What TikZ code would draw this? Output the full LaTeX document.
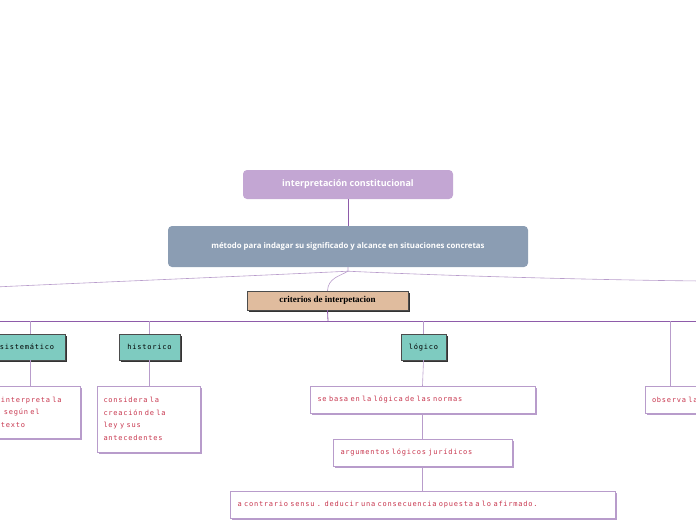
\documentclass[tikz,border=0pt]{standalone}
\usepackage{fontspec}
\setmainfont{Open Sans}
\newfontfamily\monof{DejaVu Sans Mono}[LetterSpace=11]
\newfontfamily\serifb{Liberation Serif}[BoldFont={Liberation Serif Bold}]
\usetikzlibrary{shadows}
\definecolor{lil}{HTML}{C3A6D3}
\definecolor{slate}{HTML}{8B9DB3}
\definecolor{tan}{HTML}{E0BC9E}
\definecolor{teal1}{HTML}{7ECBC0}
\definecolor{txtred}{HTML}{C8374F}
\definecolor{ln}{HTML}{8E5BAA}
\definecolor{lnl}{HTML}{B89CCB}
\tikzset{
 top/.style={rounded corners=4pt,text=white,font=\bfseries\fontsize{9}{10}\selectfont,minimum height=29pt,inner sep=0pt},
 crit/.style={fill=tan,draw=black!70,drop shadow={shadow xshift=1.5pt,shadow yshift=-1.5pt,fill=black!80,opacity=1},font=\serifb\bfseries\fontsize{9}{10}\selectfont,minimum width=161pt,minimum height=19pt,inner sep=0pt},
 cat/.style={fill=teal1,draw=black!70,drop shadow={shadow xshift=1.5pt,shadow yshift=-1.5pt,fill=black!80,opacity=1},font=\monof\fontsize{7}{8}\selectfont,minimum height=26pt,inner sep=0pt},
 leaf/.style={fill=white,draw=lnl,drop shadow={shadow xshift=1.5pt,shadow yshift=-1.5pt,fill=lnl,opacity=1},text=txtred,font=\monof\fontsize{7}{12.5}\selectfont,inner sep=0pt,align=left},
 link/.style={lnl,line width=0.6pt},
 blink/.style={ln,line width=0.8pt}
}
\begin{document}
\begin{tikzpicture}[x=1pt,y=-1pt]
\useasboundingbox (0,0) rectangle (696,520);
\clip (0,0) rectangle (696,520);
\node[top,fill=lil,minimum width=210pt] (title) at (348,184.5) {interpretación constitucional};
\node[top,fill=slate,minimum width=360pt,minimum height=41pt,font=\bfseries\fontsize{7.8}{9}\selectfont] (met) at (348,246.5) {método para indagar su significado y alcance en situaciones concretas};
\draw[blink] (title.south) -- (met.north);
\coordinate (ml) at (-5,287);
\coordinate (mr) at (701,281);
\draw[link] (met.south) -- ++(0,4) .. controls (250,276) and (80,283) .. (ml);
\draw[link] (met.south) ++(0,4) .. controls (450,276) and (600,280) .. (mr);
\node[crit] (crit) at (327.5,300.5) {criterios de interpetacion};
\draw[link] (met.south) ++(0,4) .. controls (340,276) and (328,278) .. (crit.north);
\coordinate (bus) at (328,321);
\coordinate (busl) at (-5,321);
\coordinate (busr) at (701,321);
\draw[blink] (crit.south) -- (bus);
\draw[blink] (busl) -- (busr);
\node[cat,minimum width=80pt] (sis) at (25,347) {\hspace*{4pt}sistemático};
\node[cat,minimum width=61pt] (his) at (149.5,347) {historico};
\node[cat,minimum width=45pt] (log) at (423.5,347) {lógico};
\draw[link] (30,321) -- (30,334);
\draw[link] (his.north|-bus) -- (his.north);
\draw[link] (log.north|-bus) -- (log.north);
\node[leaf,minimum width=95pt,minimum height=52pt,text width=82pt] (sist) at (33,412) {\hspace*{9pt}interpreta la\\ \hspace*{12pt}según el\\ \hspace*{9pt}texto};
\draw[link] (30,360) -- (30,386);
\node[leaf,minimum width=103pt,minimum height=66pt,text width=90pt] (hist) at (148.5,419) {considera la\\creación de la\\ley y sus\\antecedentes};
\draw[link] (his.south) -- (his.south|-hist.north);
\node[leaf,minimum width=225pt,minimum height=27pt,text width=210pt] (logt) at (422.5,399.5) {se basa en la lógica de las normas};
\draw[link] (log.south) -- (logt.north);
\node[leaf,minimum width=179pt,minimum height=27pt,text width=164pt] (arg) at (422.5,452.5) {argumentos lógicos jurídicos};
\draw[link] (logt.south) -- (arg.north);
\node[leaf,minimum width=385pt,minimum height=27pt,text width=370pt] (contra) at (422.5,505) {a contrario sensu . deducir una consecuencia opuesta a lo afirmado.};
\draw[link] (arg.south) -- (contra.north);
\node[leaf,minimum width=80pt,minimum height=27pt,text width=66pt] (obs) at (685,399.5) {observa la};
\draw[link] (670,321) -- (670,386);
\end{tikzpicture}
\end{document}
